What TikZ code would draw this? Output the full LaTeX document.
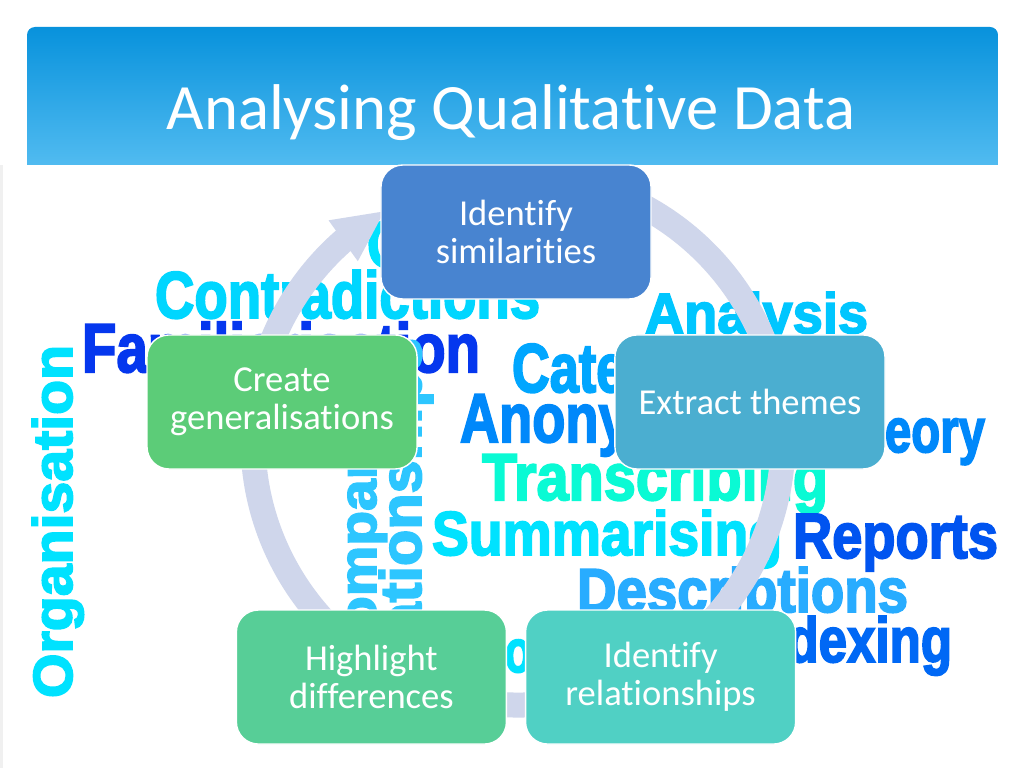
\documentclass[tikz,border=0pt]{standalone}
\usepackage{fontspec}
\setmainfont{Carlito}[Ligatures=NoCommon]
\newfontfamily\cloudfont{Liberation Sans}[BoldFeatures={FakeBold=3}]
\usepackage{graphicx}
\usetikzlibrary{arrows.meta,bending}

\definecolor{barTop}{RGB}{8,146,220}
\definecolor{barBottom}{RGB}{86,190,242}
\definecolor{ringLavender}{RGB}{207,214,235}
\definecolor{simBlue}{RGB}{72,132,208}
\definecolor{themeBlue}{RGB}{75,174,208}
\definecolor{relTeal}{RGB}{80,208,196}
\definecolor{diffGreen}{RGB}{87,206,151}
\definecolor{genGreen}{RGB}{92,204,120}
\definecolor{cyanA}{RGB}{0,226,255}
\definecolor{cyanB}{RGB}{0,214,255}
\definecolor{cyanC}{RGB}{0,198,255}
\definecolor{skyA}{RGB}{0,166,255}
\definecolor{skyB}{RGB}{40,172,255}
\definecolor{skyC}{RGB}{45,198,255}
\definecolor{blueA}{RGB}{0,136,250}
\definecolor{blueB}{RGB}{0,104,245}
\definecolor{blueC}{RGB}{0,84,240}
\definecolor{blueDeep}{RGB}{5,55,238}
\definecolor{mint}{RGB}{10,250,212}

\newlength{\pxu}
\setlength{\pxu}{0.025cm}
\newcommand{\cloudword}[3]{\resizebox{#1\pxu}{#2\pxu}{\cloudfont\bfseries #3}}

\begin{document}
\begin{tikzpicture}[x=0.025cm, y=-0.025cm,
   word/.style={inner sep=0pt, outer sep=0pt, anchor=base west},
   upword/.style={word, rotate=90},
   ring/.style={draw=ringLavender, line width=0.625cm, -{Triangle[length=1.3cm, width=1.15cm]}},
   title/.style={anchor=base, text=white, font=\fontsize{46}{50}\selectfont},
   box/.style={draw=white, line width=1pt, rounded corners=0.55cm, minimum width=6.75cm, minimum height=3.35cm, inner sep=0pt, text=white, align=center, font=\fontsize{26}{27}\selectfont},
   boxsim/.style={box, fill=simBlue},
   boxtheme/.style={box, fill=themeBlue},
   boxrel/.style={box, fill=relTeal},
   boxdiff/.style={box, fill=diffGreen},
   boxgen/.style={box, fill=genGreen}
]
\useasboundingbox (0,0) rectangle (1024,768);
\fill[white] (0,0) rectangle (1024,768);
\fill[gray!12] (0,165) rectangle (3,768);

% Title bar
\begin{scope}
\clip (27,27) rectangle (998,165);
\shade[top color=barTop, bottom color=barBottom, rounded corners=0.2cm] (27,27) rectangle (998,175);
\end{scope}
\node[title] (title) at (511,130) {Analysing Qualitative Data};

% Word cloud
\node[word, text=cyanA] (coding) at (367,267) {\cloudword{185}{48}{Coding}};
\node[word, text=cyanB] (contradictions) at (155,318) {\cloudword{385}{48}{Contradictions}};
\node[word, text=blueDeep] (familiarisation) at (82,372) {\cloudword{398}{50}{Familiarisation}};
\node[word, text=cyanC] (analysis) at (645,333) {\cloudword{223}{41}{Analysis}};
\node[word, text=skyA] (categories) at (512,392) {\cloudword{270}{50}{Categories}};
\node[word, text=blueA] (anonymity) at (460,442) {\cloudword{280}{50}{Anonymity}};
\node[word, text=blueA] (theory) at (827,452) {\cloudword{158}{45}{Theory}};
\node[word, text=mint] (transcribing) at (482,500) {\cloudword{346}{48}{Transcribing}};
\node[word, text=cyanA] (summarising) at (432,555) {\cloudword{350}{45}{Summarising}};
\node[word, text=blueC] (reports) at (793,558) {\cloudword{205}{44}{Reports}};
\node[word, text=skyB] (descriptions) at (577,612) {\cloudword{331}{45}{Descriptions}};
\node[word, text=blueB] (indexing) at (742,662) {\cloudword{210}{46}{Indexing}};
\node[word, text=cyanA] (concepts) at (473,672) {\cloudword{200}{42}{Concepts}};
\node[upword, text=cyanA] (organisation) at (72,698) {\cloudword{353}{40}{Organisation}};
\node[upword, text=skyC] (comparing) at (376,672) {\cloudword{300}{38}{Comparing}};
\node[upword, text=skyC] (relationships) at (421,728) {\cloudword{390}{42}{Relationships}};

% Cycle
\coordinate (hub) at (516,478);
\coordinate (ringc) at (518,440);
\draw[ring] ([shift={(-80:265)}]ringc) arc[start angle=-80, end angle=240, radius=265];

\node[boxsim] (similar) at ([shift={(270:246)}]hub) {Identify\\similarities};
\node[boxtheme] (themes) at ([shift={(342:246)}]hub) {Extract themes};
\node[boxrel] (relations) at ([shift={(54:246)}]hub) {Identify\\relationships};
\node[boxdiff] (differ) at ([shift={(126:246)}]hub) {Highlight\\differences};
\node[boxgen] (general) at ([shift={(198:246)}]hub) {Create\\generalisations};
\end{tikzpicture}
\end{document}
